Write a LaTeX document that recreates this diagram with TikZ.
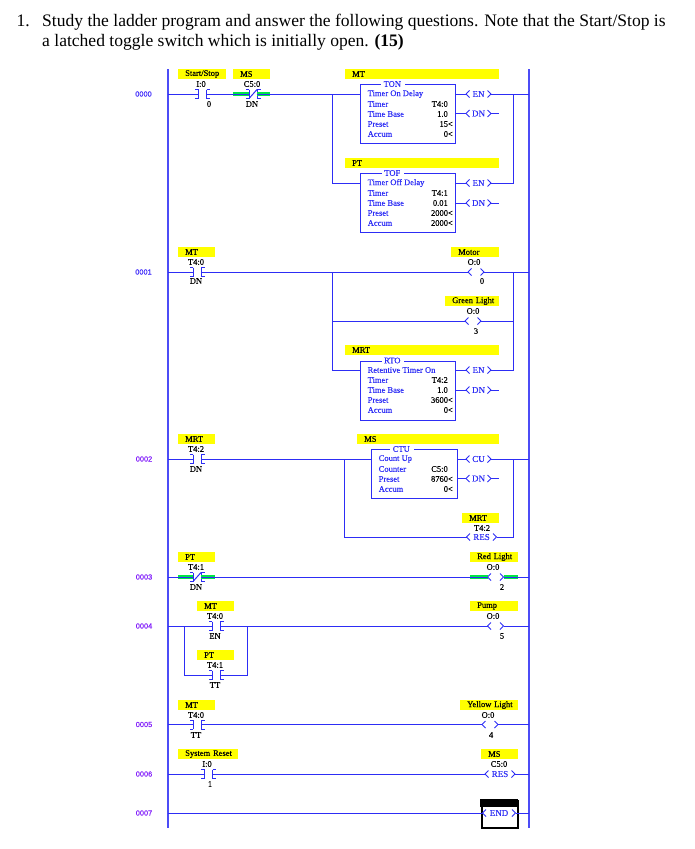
\documentclass[tikz,border=0pt]{standalone}
\usepackage{fontspec}
\setmainfont{Liberation Serif}
\newfontfamily\numfont[FakeBold=0.2]{Liberation Sans}
\newfontfamily\scalafont[FakeBold=0.3]{Liberation Serif}
\usetikzlibrary{calc}
\definecolor{bluscala}{RGB}{45,45,245}
\definecolor{bluriga}{RGB}{60,40,250}
\definecolor{viola}{RGB}{130,30,250}
\definecolor{verdino}{RGB}{0,230,70}
\definecolor{giallo}{RGB}{255,255,0}
\tikzset{
filo/.style={draw=bluscala,line width=1pt},
rotaia/.style={draw=bluscala!85,line width=1.4pt},
verde/.style={draw=verdino,line width=4pt},
nero/.style={inner sep=0pt,text=black,font=\scalafont\fontsize{8.5}{9}\selectfont},
blu/.style={inner sep=0pt,text=bluscala,font=\scalafont\fontsize{8.5}{9}\selectfont},
blusx/.style={blu,anchor=west},
nerodx/.style={nero,anchor=east},
numero/.style={inner sep=0pt,text=#1,font=\numfont\fontsize{7.4}{8}\selectfont},
testata/.style={inner sep=0pt,anchor=base west,text=black,font=\fontsize{17.55}{19}\selectfont},
etichetta/.style={fill=giallo,anchor=west,inner sep=0pt,minimum height=10pt,text width=#1pt,align=left,text=black,
  font=\scalafont\fontsize{8.5}{9}\selectfont,execute at begin node={\hspace*{7pt}}},
contatto/.style={inner sep=0pt,outer sep=0pt,minimum width=8pt,minimum height=9pt,append after command={
  (\tikzlastnode.north west) edge[filo] (\tikzlastnode.south west)
  (\tikzlastnode.north west) edge[filo] +(-3.5,0)
  (\tikzlastnode.south west) edge[filo] +(-3.5,0)
  (\tikzlastnode.north east) edge[filo] (\tikzlastnode.south east)
  (\tikzlastnode.north east) edge[filo] +(3.5,0)
  (\tikzlastnode.south east) edge[filo] +(3.5,0)}},
chiuso/.style={contatto,append after command={
  (\tikzlastnode.south west) edge[filo] (\tikzlastnode.north east)}},
bobina/.style={inner sep=0pt,outer sep=0pt,minimum height=7pt,minimum width=#1pt,text=bluscala,
  font=\scalafont\fontsize{9}{9}\selectfont,append after command={
  (\tikzlastnode.west) edge[filo] +(3.5,-3.5)
  (\tikzlastnode.west) edge[filo] +(3.5,3.5)
  (\tikzlastnode.east) edge[filo] +(-3.5,-3.5)
  (\tikzlastnode.east) edge[filo] +(-3.5,3.5)}},
blocco/.style={draw=bluscala,line width=1pt,anchor=north west,inner sep=0pt,minimum width=#1pt},
titolo/.style={inner sep=1pt,fill=white,text=bluscala,font=\scalafont\fontsize{8.5}{9}\selectfont},
}

\begin{document}
\begin{tikzpicture}[x=1pt,y=-1pt]
\useasboundingbox (0,0) rectangle (695,849);

\node[testata] (num) at (16.5,26) {1.};
\node[testata] (riga1) at (42,26) {Study the ladder program and answer the following questions. Note that the Start/Stop is};
\node[testata] (riga2) at (42,46) {a latched toggle switch which is initially open. \textbf{(15)}};

\coordinate (ta) at (168,69);
\coordinate (tb) at (168,828);
\coordinate (ua) at (529,69);
\coordinate (ub) at (529,828);
\draw[rotaia] (ta) -- (tb);
\draw[rotaia] (ua) -- (ub);

% rung 0000
\node[numero=bluriga] (n0) at (143.5,94) {0000};
\coordinate (l0) at (168,94);
\coordinate (r0) at (529,94);
\coordinate (d0) at (332,94);
\coordinate (g0a) at (233,94);
\coordinate (g0b) at (270,94);
\coordinate (j0) at (513,94);
\node[etichetta=48] (lab0a) at (178,74) {Start/Stop};
\node[etichetta=37] (lab0b) at (233,74) {MS};
\node[etichetta=154] (lab0c) at (345,74) {MT};
\node[etichetta=154] (lab0d) at (345,163) {PT};
\node[nero] (t0a) at (201,84) {I:0};
\node[nero] (t0b) at (209,104) {0};
\node[nero] (t0c) at (252,84) {C5:0};
\node[nero] (t0d) at (252,104) {DN};
\node[contatto] (c0a) at (202.5,94) {};
\node[chiuso] (c0b) at (253,94) {};
\draw[verde] (g0a) -- (c0b);
\draw[verde] (c0b) -- (g0b);
\node[blocco=95,minimum height=59pt] (ton) at (360,84) {};
\node[titolo] (ton0) at (393,84) {\,TON\,\,};
\node[blusx] (ton1) at (367.5,94) {Timer On Delay};
\node[blusx] (ton2) at (367.5,104) {Timer};
\node[blusx] (ton3) at (367.5,114) {Time Base};
\node[blusx] (ton4) at (367.5,124) {Preset};
\node[blusx] (ton5) at (367.5,134) {Accum};
\node[nerodx] (ton6) at (448,104) {T4:0};
\node[nerodx] (ton7) at (448,114) {1.0};
\node[nerodx] (ton8) at (453,124) {15<};
\node[nerodx] (ton9) at (453,134) {0<};
\node[blocco=95,minimum height=59pt] (tof) at (360,173) {};
\node[titolo] (tof0) at (393,173) {\,TOF\,\,};
\node[blusx] (tof1) at (367.5,183) {Timer Off Delay};
\node[blusx] (tof2) at (367.5,193) {Timer};
\node[blusx] (tof3) at (367.5,203) {Time Base};
\node[blusx] (tof4) at (367.5,213) {Preset};
\node[blusx] (tof5) at (367.5,223) {Accum};
\node[nerodx] (tof6) at (448,193) {T4:1};
\node[nerodx] (tof7) at (448,203) {0.01};
\node[nerodx] (tof8) at (453,213) {2000<};
\node[nerodx] (tof9) at (453,223) {2000<};
\node[bobina=25] (en0) at (478.5,94) {EN};
\node[bobina=25] (dn0) at (478.5,113.5) {DN};
\node[bobina=25] (en1) at (478.5,183) {EN};
\node[bobina=25] (dn1) at (478.5,203) {DN};
\coordinate (f0) at (499,113.5);
\coordinate (f1) at (499,203);
\draw[filo] (l0) -- (c0a);
\draw[filo] (c0a) -- (c0b);
\draw[filo] (c0b) -- (d0 -| ton.west);
\draw[filo] (d0) |- (en1 -| tof.west);
\draw[filo] (ton.east |- en0) -- (en0);
\draw[filo] (en0) -- (r0);
\draw[filo] (ton.east |- dn0) -- (dn0);
\draw[filo] (dn0) -- (f0);
\draw[filo] (tof.east |- en1) -- (en1);
\draw[filo] (en1) -| (j0);
\draw[filo] (tof.east |- dn1) -- (dn1);
\draw[filo] (dn1) -- (f1);

% rung 0001
\node[numero=bluriga] (n1) at (143.5,272) {0001};
\coordinate (l1) at (168,272);
\coordinate (r1) at (529,272);
\coordinate (d1) at (332,272);
\coordinate (j1) at (513,272);
\node[etichetta=37] (lab1a) at (178,252) {MT};
\node[etichetta=48] (lab1b) at (451,252) {Motor};
\node[etichetta=54] (lab1c) at (445,301) {Green Light};
\node[etichetta=154] (lab1d) at (345,350) {MRT};
\node[nero] (t1a) at (196,262) {T4:0};
\node[nero] (t1b) at (196,281) {DN};
\node[nero] (t1c) at (474,262) {O:0};
\node[nero] (t1d) at (482,281) {0};
\node[nero] (t1e) at (473,311) {O:0};
\node[nero] (t1f) at (476,331) {3};
\node[contatto] (c1a) at (197,272) {};
\node[bobina=16] (o1a) at (476,272) {};
\node[bobina=16] (o1b) at (473,321) {};
\node[blocco=95,minimum height=59pt] (rto) at (360,360.5) {};
\node[titolo] (rto0) at (393,360.5) {\,RTO\,\,};
\node[blusx] (rto1) at (367.5,370) {Retentive Timer On};
\node[blusx] (rto2) at (367.5,380) {Timer};
\node[blusx] (rto3) at (367.5,390) {Time Base};
\node[blusx] (rto4) at (367.5,400) {Preset};
\node[blusx] (rto5) at (367.5,410) {Accum};
\node[nerodx] (rto6) at (448,380) {T4:2};
\node[nerodx] (rto7) at (448,390) {1.0};
\node[nerodx] (rto8) at (453,400) {3600<};
\node[nerodx] (rto9) at (453,410) {0<};
\node[bobina=25] (en2) at (478.5,370) {EN};
\node[bobina=25] (dn2) at (478.5,390) {DN};
\coordinate (f2) at (499,390);
\draw[filo] (l1) -- (c1a);
\draw[filo] (c1a) -- (o1a);
\draw[filo] (o1a) -- (r1);
\draw[filo] (d1) |- (o1b);
\draw[filo] (d1) |- (en2 -| rto.west);
\draw[filo] (o1b) -| (j1);
\draw[filo] (rto.east |- en2) -- (en2);
\draw[filo] (en2) -| (j1);
\draw[filo] (rto.east |- dn2) -- (dn2);
\draw[filo] (dn2) -- (f2);

% rung 0002
\node[numero=viola] (n2) at (144,459) {0002};
\coordinate (l2) at (168,459);
\coordinate (r2) at (529,459);
\coordinate (d2) at (344,459);
\coordinate (j2) at (513,459);
\node[etichetta=37] (lab2a) at (178,439) {MRT};
\node[etichetta=142] (lab2b) at (357,439) {MS};
\node[etichetta=37] (lab2c) at (462,518) {MRT};
\node[nero] (t2a) at (196,449) {T4:2};
\node[nero] (t2b) at (196,469) {DN};
\node[nero] (t2c) at (482,528) {T4:2};
\node[contatto] (c2a) at (197,459) {};
\node[blocco=86,minimum height=49pt] (ctu) at (371,449) {};
\node[titolo] (ctu0) at (402,449) {\,CTU\,\,};
\node[blusx] (ctu1) at (378.5,459) {Count Up};
\node[blusx] (ctu2) at (378.5,469) {Counter};
\node[blusx] (ctu3) at (378.5,479) {Preset};
\node[blusx] (ctu4) at (378.5,489) {Accum};
\node[nerodx] (ctu5) at (448,469) {C5:0};
\node[nerodx] (ctu6) at (453,479) {8760<};
\node[nerodx] (ctu7) at (453,489) {0<};
\node[bobina=25] (cu2) at (478.5,459) {CU};
\node[bobina=25] (dn3) at (478.5,478.5) {DN};
\node[bobina=30] (res2) at (481.5,537) {RES};
\coordinate (f3) at (499,478.5);
\draw[filo] (l2) -- (c2a);
\draw[filo] (c2a) -- (d2 -| ctu.west);
\draw[filo] (d2) |- (res2);
\draw[filo] (res2) -| (j2);
\draw[filo] (ctu.east |- cu2) -- (cu2);
\draw[filo] (cu2) -- (r2);
\draw[filo] (ctu.east |- dn3) -- (dn3);
\draw[filo] (dn3) -- (f3);

% rung 0003
\node[numero=viola] (n3) at (144,577) {0003};
\coordinate (l3) at (168,577);
\coordinate (r3) at (529,577);
\coordinate (g3a) at (178,577);
\coordinate (g3b) at (215,577);
\coordinate (g3c) at (470,577);
\coordinate (g3d) at (518,577);
\node[etichetta=37] (lab3a) at (178,557) {PT};
\node[etichetta=48] (lab3b) at (470,557) {Red Light};
\node[nero] (t3a) at (196,567) {T4:1};
\node[nero] (t3b) at (196,587) {DN};
\node[nero] (t3c) at (493,567) {O:0};
\node[nero] (t3d) at (502,587) {2};
\node[chiuso] (c3a) at (197,577) {};
\node[bobina=16] (o3a) at (495.5,577) {};
\draw[verde] (g3a) -- (c3a);
\draw[verde] (c3a) -- (g3b);
\draw[verde] (g3c) -- (o3a);
\draw[verde] (o3a) -- (g3d);
\draw[filo] (l3) -- (c3a);
\draw[filo] (c3a) -- (o3a);
\draw[filo] (o3a) -- (r3);

% rung 0004
\node[numero=viola] (n4) at (144,626) {0004};
\coordinate (l4) at (168,626);
\coordinate (r4) at (529,626);
\coordinate (d4) at (184,626);
\coordinate (e4) at (247,626);
\node[etichetta=37] (lab4a) at (197,606) {MT};
\node[etichetta=37] (lab4b) at (197,655) {PT};
\node[etichetta=48] (lab4c) at (470,606) {Pump};
\node[nero] (t4a) at (215,616) {T4:0};
\node[nero] (t4b) at (215,636) {EN};
\node[nero] (t4c) at (215,665) {T4:1};
\node[nero] (t4d) at (215,685) {TT};
\node[nero] (t4e) at (493,616) {O:0};
\node[nero] (t4f) at (502,636) {5};
\node[contatto] (c4a) at (216,626) {};
\node[contatto] (c4b) at (216,675) {};
\node[bobina=16] (o4a) at (495.5,626) {};
\draw[filo] (l4) -- (c4a);
\draw[filo] (c4a) -- (o4a);
\draw[filo] (o4a) -- (r4);
\draw[filo] (d4) |- (c4b);
\draw[filo] (c4b) -| (e4);

% rung 0005
\node[numero=viola] (n5) at (144,724.5) {0005};
\coordinate (l5) at (168,724.5);
\coordinate (r5) at (529,724.5);
\node[etichetta=37] (lab5a) at (178,705) {MT};
\node[etichetta=58] (lab5b) at (460,705) {Yellow Light};
\node[nero] (t5a) at (196,715) {T4:0};
\node[nero] (t5b) at (196,735) {TT};
\node[nero] (t5c) at (488,715) {O:0};
\node[nero] (t5d) at (491,735) {4};
\node[contatto] (c5a) at (197,724.5) {};
\node[bobina=16] (o5a) at (490,724.5) {};
\draw[filo] (l5) -- (c5a);
\draw[filo] (c5a) -- (o5a);
\draw[filo] (o5a) -- (r5);

% rung 0006
\node[numero=viola] (n6) at (144,774) {0006};
\coordinate (l6) at (168,774);
\coordinate (r6) at (529,774);
\node[etichetta=60] (lab6a) at (178,754) {System Reset};
\node[etichetta=37] (lab6b) at (481,754) {MS};
\node[nero] (t6a) at (207,764) {I:0};
\node[nero] (t6b) at (210,784) {1};
\node[nero] (t6c) at (499,764) {C5:0};
\node[contatto] (c6a) at (208.5,774) {};
\node[bobina=30] (res6) at (500,774) {RES};
\draw[filo] (l6) -- (c6a);
\draw[filo] (c6a) -- (res6);
\draw[filo] (res6) -- (r6);

% rung 0007
\node[numero=viola] (n7) at (144,813) {0007};
\coordinate (l7) at (168,813);
\coordinate (r7) at (529,813);
\node[draw=black,line width=2pt,fill=white,anchor=north west,inner sep=0pt,minimum width=36pt,minimum height=27.5pt] (fine) at (481,799.5) {};
\node[fill=black,anchor=north west,inner sep=0pt,minimum width=38pt,minimum height=7.5pt] (finebarra) at (480,799) {};
\node[bobina=33] (end7) at (499,813) {END};
\draw[filo] (l7) -- (end7);
\draw[filo] (end7) -- (r7);

\end{tikzpicture}
\end{document}
